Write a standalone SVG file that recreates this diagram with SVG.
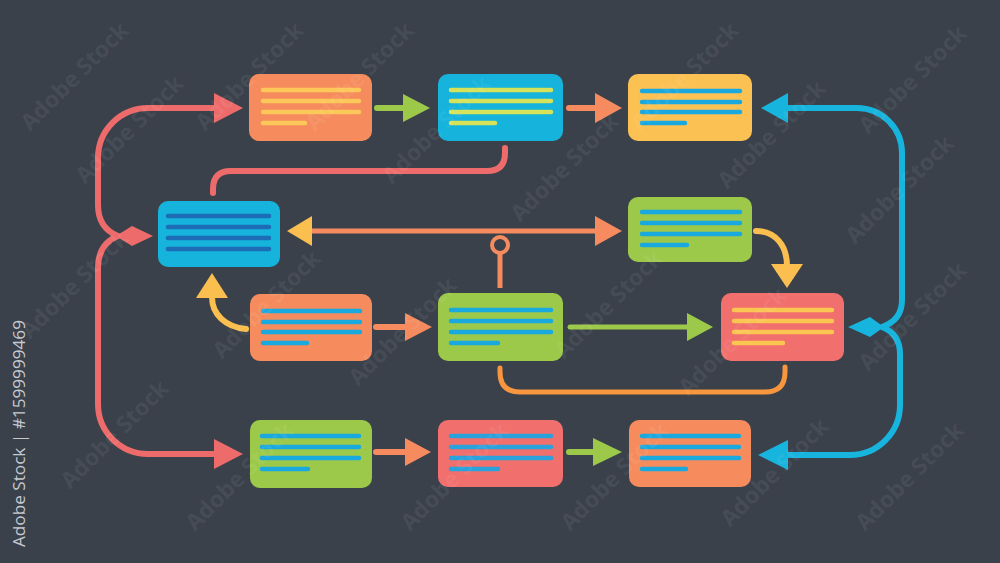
<svg xmlns="http://www.w3.org/2000/svg" width="1000" height="563" viewBox="0 0 1000 563">
<style>
.bg{fill:#3a414b}
.wm{font-family:"Open Sans","DejaVu Sans",sans-serif;font-weight:bold;font-size:23px;fill:#ffffff;fill-opacity:0.07;text-anchor:middle}
.box{stroke:none}
.or{fill:#f68c5d}.bl{fill:#16b3dc}.ye{fill:#fbc153}.gr{fill:#9cc94a}.rd{fill:#f16f6d}
.ln{fill:none;stroke-width:4.5;stroke-linecap:round}
.lb{stroke:#1aa9de}.ly{stroke:#fcc85a}.lyg{stroke:#d6e35a}.ldb{stroke:#1d6db6}.lry{stroke:#fbc552}.lrb{stroke:#2aa2dc}
.c{fill:none;stroke-width:6;stroke-linecap:round;stroke-linejoin:round}
.cr{stroke:#ee6b6b}.cb{stroke:#17b4dd}.cg{stroke:#9cc94a}.co{stroke:#f58b5e}.cy{stroke:#fbbf4f}.cu{stroke:#f7963f}
.hr{fill:#ee6b6b}.hb{fill:#17b4dd}.hg{fill:#9cc94a}.ho{fill:#f58b5e}.hy{fill:#fbbf4f}
</style>
<rect class="bg" x="0" y="0" width="1000" height="563"/>
<text transform="translate(25,547) rotate(-90)" x="0" y="0" font-family="Open Sans, DejaVu Sans, sans-serif" font-size="16" fill="#c6cad0" textLength="227" lengthAdjust="spacingAndGlyphs">Adobe Stock | #1599999469</text>
<g id="connectors">
<path class="c cr" d="M98 205 L98 158 A50 50 0 0 1 148 108 L216 108"/>
<path class="c cr" d="M98 205 Q98 228 118 236 Q98 244 98 268 L98 404 A50 50 0 0 0 148 454 L216 454"/>
<polygon class="hr" points="214,93 243,108 214,123"/>
<polygon class="hr" points="214,439 243,454 214,469"/>
<polygon class="hr" points="153,236 132,226 116,236 132,246"/>
<path class="c cb" d="M788 108 L857 108 A45 45 0 0 1 902 153 L902 300 Q902 320 882 327 Q900 334 900 354 L900 405 A50 50 0 0 1 850 455 L788 455"/>
<polygon class="hb" points="761,108 788,93 788,123"/>
<polygon class="hb" points="758,455 788,440 788,470"/>
<polygon class="hb" points="848,327 870,317 884,327 870,337"/>
<path class="c cg" d="M377 108 L405 108"/>
<polygon class="hg" points="403,94 430,108 403,122"/>
<path class="c co" d="M569 108 L597 108"/>
<polygon class="ho" points="595,93 622,108 595,123"/>
<path class="c cr" d="M213 193 L213 189 Q213 171 231 171 L487 171 Q505 171 505 153 L505 148"/>
<path class="c co" style="stroke-width:5" d="M310 231 L597 231"/>
<polygon class="hy" points="287,231 312,216 312,246"/>
<polygon class="ho" points="622,231 595,216 595,246"/>
<circle cx="500" cy="245" r="8" fill="#3a414b" stroke="#f58b5e" stroke-width="4"/>
<path class="c co" style="stroke-width:5;stroke-linecap:butt" d="M500 253 L500 288"/>
<path class="c cy" d="M756 231 C775 231 787 245 787 266"/>
<polygon class="hy" points="771,264 803,264 787,288"/>
<path class="c cy" d="M246 329 C225 327 212 314 212 297"/>
<polygon class="hy" points="196,298 228,298 212,273"/>
<path class="c co" d="M376 327 L407 327"/>
<polygon class="ho" points="405,313 432,327 405,341"/>
<path class="c cg" style="stroke-width:5" d="M570 327 L690 327"/>
<polygon class="hg" points="687,313 713,327 687,341"/>
<path class="c cu" style="stroke-width:5" d="M500 368 L500 372 Q500 392 520 392 L765 392 Q785 392 785 372 L785 367"/>
<path class="c co" d="M376 452 L407 452"/>
<polygon class="ho" points="405,438 431,452 405,466"/>
<path class="c cg" d="M569 452 L595 452"/>
<polygon class="hg" points="593,438 622,452 593,466"/>
</g>
<g id="nodeA">
<rect class="box or" x="249" y="74" width="123" height="67" rx="10"/>
<path class="ln ly" d="M263 90H359M263 101H359M263 112H359M263 123H305"/>
</g>
<g id="nodeB">
<rect class="box bl" x="438" y="74" width="125" height="67" rx="10"/>
<path class="ln lyg" d="M451 90H551M451 101H551M451 112H551M451 123H495"/>
</g>
<g id="nodeC">
<rect class="box ye" x="628" y="74" width="124" height="67" rx="10"/>
<path class="ln lb" d="M642 91H740M642 102H740M642 112H740M642 123H685"/>
</g>
<g id="nodeE">
<rect class="box bl" x="158" y="201" width="122" height="66" rx="10"/>
<path class="ln ldb" d="M168 216H269M168 227H269M168 238H269M168 249H269"/>
</g>
<g id="nodeF">
<rect class="box gr" x="628" y="197" width="124" height="65" rx="10"/>
<path class="ln lb" d="M642 212H740M642 223H740M642 234H740M642 245H687"/>
</g>
<g id="nodeH">
<rect class="box or" x="250" y="294" width="122" height="67" rx="10"/>
<path class="ln lb" d="M263 311H360M263 322H360M263 332H360M263 343H307"/>
</g>
<g id="nodeG">
<rect class="box gr" x="438" y="293" width="125" height="68" rx="10"/>
<path class="ln lb" d="M451 310H551M451 321H551M451 332H551M451 343H498"/>
</g>
<g id="nodeD">
<rect class="box rd" x="721" y="293" width="123" height="68" rx="10"/>
<path class="ln lry" d="M734 310H832M734 321H832M734 332H832M734 343H783"/>
</g>
<g id="nodeI">
<rect class="box gr" x="250" y="420" width="122" height="68" rx="10"/>
<path class="ln lb" d="M262 436H359M262 447H359M262 458H359M262 469H308"/>
</g>
<g id="nodeJ">
<rect class="box rd" x="438" y="420" width="125" height="67" rx="10"/>
<path class="ln lrb" d="M451 436H551M451 447H551M451 458H551M451 469H498"/>
</g>
<g id="nodeK">
<rect class="box or" x="629" y="420" width="122" height="67" rx="10"/>
<path class="ln lb" d="M642 436H739M642 447H739M642 458H739M642 469H686"/>
</g>
<g id="watermarks">
<text class="wm" transform="translate(80,82) rotate(-45)">Adobe Stock</text>
<text class="wm" transform="translate(135,135) rotate(-45)">Adobe Stock</text>
<text class="wm" transform="translate(255,82) rotate(-45)">Adobe Stock</text>
<text class="wm" transform="translate(365,82) rotate(-45)">Adobe Stock</text>
<text class="wm" transform="translate(442,135) rotate(-45)">Adobe Stock</text>
<text class="wm" transform="translate(570,173) rotate(-45)">Adobe Stock</text>
<text class="wm" transform="translate(690,82) rotate(-45)">Adobe Stock</text>
<text class="wm" transform="translate(777,140) rotate(-45)">Adobe Stock</text>
<text class="wm" transform="translate(905,195) rotate(-45)">Adobe Stock</text>
<text class="wm" transform="translate(918,85) rotate(-45)">Adobe Stock</text>
<text class="wm" transform="translate(80,290) rotate(-45)">Adobe Stock</text>
<text class="wm" transform="translate(120,440) rotate(-45)">Adobe Stock</text>
<text class="wm" transform="translate(272,310) rotate(-45)">Adobe Stock</text>
<text class="wm" transform="translate(408,337) rotate(-45)">Adobe Stock</text>
<text class="wm" transform="translate(614,310) rotate(-45)">Adobe Stock</text>
<text class="wm" transform="translate(738,347) rotate(-45)">Adobe Stock</text>
<text class="wm" transform="translate(918,322) rotate(-45)">Adobe Stock</text>
<text class="wm" transform="translate(245,482) rotate(-45)">Adobe Stock</text>
<text class="wm" transform="translate(460,482) rotate(-45)">Adobe Stock</text>
<text class="wm" transform="translate(620,482) rotate(-45)">Adobe Stock</text>
<text class="wm" transform="translate(780,478) rotate(-45)">Adobe Stock</text>
<text class="wm" transform="translate(915,482) rotate(-45)">Adobe Stock</text>
</g>
</svg>
